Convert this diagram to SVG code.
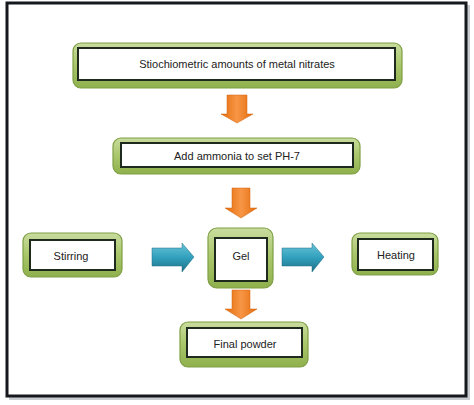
<svg xmlns="http://www.w3.org/2000/svg" width="474" height="405" viewBox="0 0 474 405">
<defs>
<linearGradient id="gr" x1="0" y1="0" x2="0" y2="1">
<stop offset="0" stop-color="#c9dc9e"/>
<stop offset="0.5" stop-color="#a9c66a"/>
<stop offset="1" stop-color="#8fb04d"/>
</linearGradient>
<linearGradient id="og" x1="0" y1="0" x2="1" y2="0">
<stop offset="0" stop-color="#e46c0a"/>
<stop offset="0.5" stop-color="#f79646"/>
<stop offset="1" stop-color="#e46c0a"/>
</linearGradient>
<linearGradient id="bg" x1="0" y1="0" x2="0" y2="1">
<stop offset="0" stop-color="#6cc3d8"/>
<stop offset="0.5" stop-color="#31a0bd"/>
<stop offset="1" stop-color="#1f6f85"/>
</linearGradient>
<style>
.g{fill:url(#gr);stroke:#7f9f45;stroke-width:1.2}
.w{fill:#fff;stroke:#1e2a1e;stroke-width:2}
.t{font-family:"Liberation Sans",Arial,sans-serif;font-size:11px;fill:#222;text-anchor:middle;dominant-baseline:central}
.o{fill:url(#og);stroke:#d0620c;stroke-width:0.5}
.b{fill:url(#bg);stroke:#1f6f85;stroke-width:0.5}
</style>
</defs>
<rect x="0" y="0" width="474" height="405" fill="#fff"/>
<rect x="9" y="5" width="461" height="395" fill="#c8ccd0"/>
<rect x="7" y="3" width="459" height="393" fill="#fff" stroke="#15191d" stroke-width="3"/>

<g id="connectors">
<path class="o" d="M227,95 H247 V114 H253 L237,123 L221,114 H227 Z"/>
<path class="o" d="M232,188 H250 V208 H257 L241,218 L225,208 H232 Z"/>
<path class="o" d="M232,290 H250 V309 H257 L241,319 L225,309 H232 Z"/>
<path class="b" d="M152,248 H182 V243 L194,257 L182,272 V266 H152 Z"/>
<path class="b" d="M282,248 H312 V243 L324,257 L312,272 V266 H282 Z"/>
</g>

<g id="n1">
<rect class="g" x="73" y="43" width="329" height="45" rx="8"/>
<rect class="w" x="78" y="48" width="317" height="32"/>
<text class="t" x="237" y="64">Stiochiometric amounts of metal nitrates</text>
</g>
<g id="n2">
<rect class="g" x="113" y="138" width="247" height="36" rx="8"/>
<rect class="w" x="121" y="143" width="232" height="24"/>
<text class="t" x="237" y="156">Add ammonia to set PH-7</text>
</g>
<g id="n3">
<rect class="g" x="23" y="233" width="99" height="44" rx="8"/>
<rect class="w" x="30" y="240" width="85" height="30"/>
<text class="t" x="71" y="256">Stirring</text>
</g>
<g id="n4">
<rect class="g" x="208" y="228" width="65" height="60" rx="9"/>
<rect class="w" x="215" y="238" width="52" height="43"/>
<text class="t" x="241" y="256">Gel</text>
</g>
<g id="n5">
<rect class="g" x="352" y="233" width="86" height="42" rx="8"/>
<rect class="w" x="358" y="239" width="75" height="31"/>
<text class="t" x="396" y="255">Heating</text>
</g>
<g id="n6">
<rect class="g" x="180" y="322" width="128" height="45" rx="8"/>
<rect class="w" x="187" y="328" width="115" height="29"/>
<text class="t" x="245" y="344">Final powder</text>
</g>
</svg>
